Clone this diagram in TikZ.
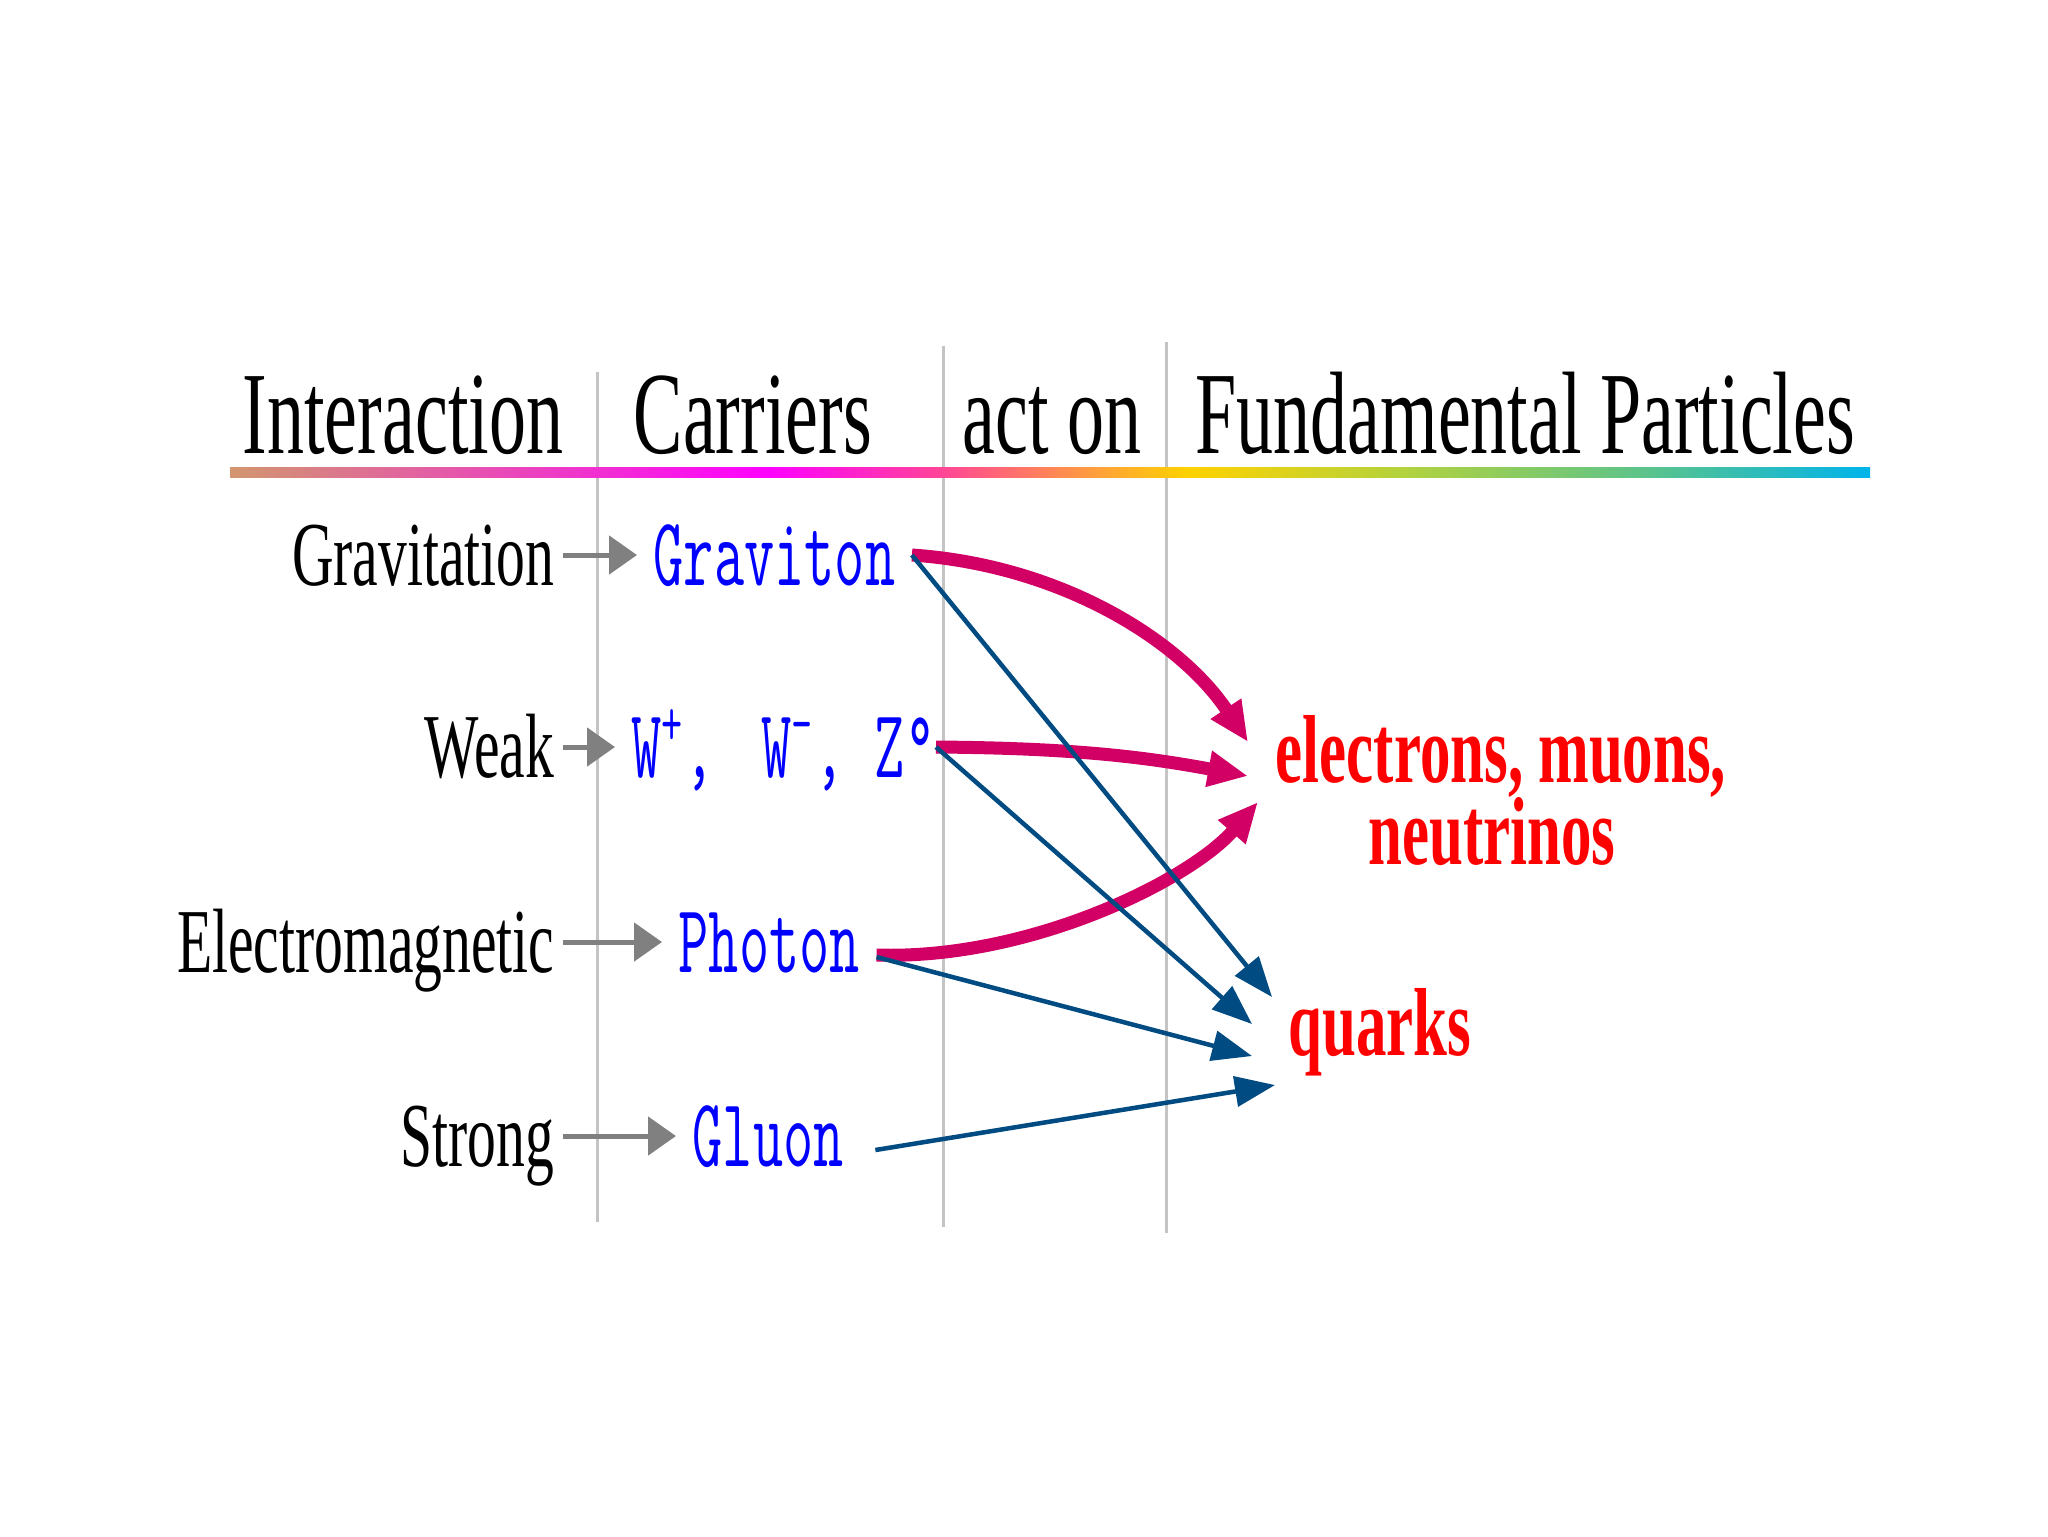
\documentclass[tikz,border=0pt]{standalone}
\usepackage{fontspec}
\usepackage{xcolor}
\usepackage{tikz}
\usetikzlibrary{positioning, arrows.meta, calc}
\newfontfamily\headfont[FakeStretch=0.63]{Liberation Serif}
\newfontfamily\carrierfont[FakeStretch=0.6]{Latin Modern Mono}
\definecolor{carrierBlue}{HTML}{0000FF}
\definecolor{particleRed}{HTML}{FF0000}
\definecolor{pinkArrow}{HTML}{D20064}
\definecolor{navyArrow}{HTML}{004B82}
\definecolor{rule}{HTML}{C4C4C4}
\definecolor{feedGray}{HTML}{808080}
\definecolor{barTan}{HTML}{D2966E}
\definecolor{barMagenta}{HTML}{FF00FF}
\definecolor{barPink}{HTML}{FF4696}
\definecolor{barOrange}{HTML}{FFA03C}
\definecolor{barYellow}{HTML}{FFD200}
\definecolor{barLime}{HTML}{B4D23C}
\definecolor{barGreen}{HTML}{5AC38C}
\definecolor{barCyan}{HTML}{00B4EB}

\begin{document}
\begin{tikzpicture}[x=0.1mm, y=-0.1mm]
      \tikzset{head/.style={font=\headfont\fontsize{33.4}{40}\selectfont, anchor=base west, inner sep=0},
        force/.style={font=\headfont\fontsize{26}{30}\selectfont, anchor=base east, inner xsep=0.8mm, inner ysep=0, text height=6mm, text depth=0mm},
        carrier/.style={font=\carrierfont\fontsize{27.8}{32}\selectfont, text=carrierBlue, anchor=base west, inner xsep=1.6mm, inner ysep=0, text height=6mm, text depth=0mm},
        particle/.style={font=\headfont\bfseries\fontsize{27.5}{32}\selectfont, text=particleRed, anchor=base, inner sep=0, text height=6.4mm, text depth=0mm},
        feed/.style={draw=feedGray, line width=0.5mm, -{Triangle[length=2.8mm,width=3.8mm]}},
        lepton/.style={draw=pinkArrow, line width=1.3mm, -{Triangle[length=4mm,width=3.4mm]}},
        hadron/.style={draw=navyArrow, line width=0.45mm, -{Triangle[length=4mm,width=3mm]}},
        divider/.style={draw=rule, line width=0.3mm}}
      \useasboundingbox[fill=white] (0,0) rectangle (2048,1536);
      \draw[divider] (597,372) -- (597,1222); \draw[divider] (943,346) -- (943,1227); \draw[divider] (1166,342) -- (1166,1233);
      \shade[left color=barTan, right color=barMagenta] (230,467) rectangle (767,477);
      \shade[left color=barMagenta, right color=barPink] (767,467) rectangle (943,477);
      \shade[left color=barPink, right color=barOrange] (943,467) rectangle (1097,477);
      \shade[left color=barOrange, right color=barYellow] (1097,467) rectangle (1188,477);
      \shade[left color=barYellow, right color=barLime] (1188,467) rectangle (1400,477);
      \shade[left color=barLime, right color=barGreen] (1400,467) rectangle (1650,477);
      \shade[left color=barGreen, right color=barCyan] (1650,467) rectangle (1870,477);
      \node[head] (hInter) at (242,453) {Interaction};
      \node[head] (hCarr) at (633,453) {Carriers};
      \node[head] (hAct) at (962,453) {act on};
      \node[head] (hFund) at (1195,453) {Fundamental Particles};
      \node[force] (grav) at (563,585) {Gravitation};
      \node[force] (weak) at (563,777) {Weak};
      \node[force] (elmag) at (563,972) {Electromagnetic};
      \node[force] (strong) at (563,1166) {Strong};
      \node[carrier] (gravC) at (637,585) {Graviton};
      \node[carrier] (weakC) at (615,777) {W\textsuperscript{+},\ \,W\textsuperscript{-},\ Z°};
      \node[carrier] (photC) at (662,972) {Photon};
      \node[carrier] (gluC) at (676,1166) {Gluon};
      \node[particle] (elec) at (1501,782) {electrons, muons,};
      \node[particle] (neut) at (1492,864) {neutrinos};
      \node[particle, anchor=base west] (quark) at (1288,1055) {quarks};
      \coordinate (eG) at (1248,742); \coordinate (eW) at (1248,776); \coordinate (eP) at (1258,802);
      \coordinate (qG) at (1272,997); \coordinate (qW) at (1252,1024); \coordinate (qP) at (1252,1056); \coordinate (qS) at (1275,1085);
      \draw[feed] (grav) -- (gravC); \draw[feed] (weak) -- (weakC); \draw[feed] (elmag) -- (photC); \draw[feed] (strong) -- (gluC);
      \draw[lepton] (gravC.east) .. controls (1060,565) and (1180,640) .. (eG);
      \draw[lepton] ([xshift=-1.6mm]weakC.east) .. controls (1080,748) and (1150,758) .. (eW);
      \draw[lepton] ([yshift=-1.3mm]photC.east) .. controls (1030,960) and (1190,880) .. (eP);
      \draw[hadron] (gravC.east) -- (qG); \draw[hadron] ([xshift=-1.6mm]weakC.east) -- (qW);
      \draw[hadron] ([yshift=-1.5mm]photC.east) -- (qP); \draw[hadron] ([xshift=1.5mm,yshift=-1.4mm]gluC.east) -- (qS);
    \end{tikzpicture}
\end{document}
